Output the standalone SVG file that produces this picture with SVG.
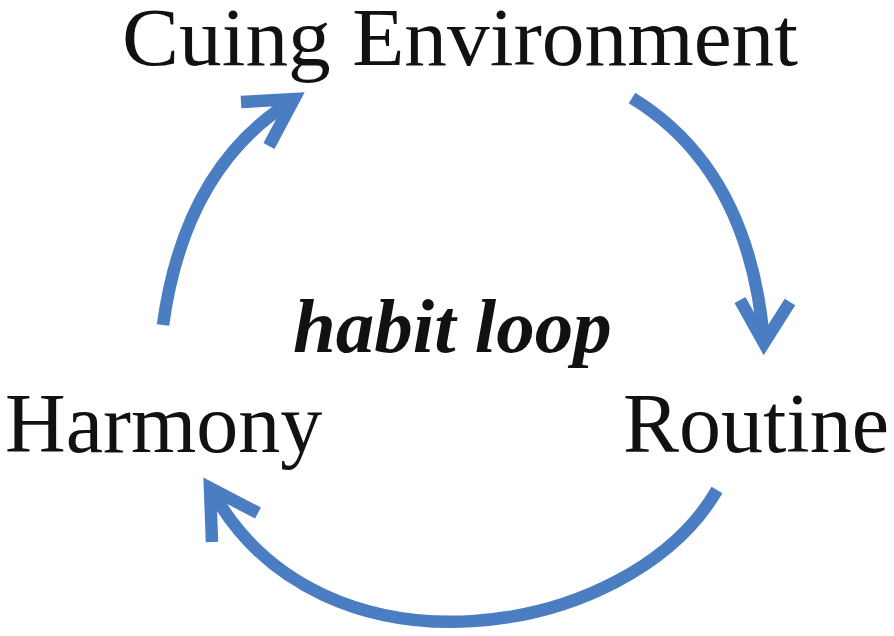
<svg xmlns="http://www.w3.org/2000/svg" width="894" height="636" viewBox="0 0 894 636">
<style>
.lbl{font-family:"Liberation Serif","Times New Roman",serif;fill:#111;}
.arc{fill:none;stroke:#4a7dc1;stroke-width:12.5;stroke-linecap:butt;stroke-linejoin:miter;}
</style>
<rect width="894" height="636" fill="#fff"/>
<g id="connectors">
<path class="arc" d="M163,325 Q185,165 295,99"/>
<polyline class="arc" points="241,102 294,99 269,146"/>
<path class="arc" d="M632,98 Q750,170 764,343"/>
<polyline class="arc" points="740,300 764,343 790,302"/>
<path class="arc" d="M717,490 C630,640 320,690 211,489"/>
<polyline class="arc" points="258,513 210,488 212,542"/>
</g>
<g id="node-cuing"><text class="lbl" x="122" y="65" font-size="83" textLength="676" lengthAdjust="spacingAndGlyphs">Cuing Environment</text></g>
<g id="node-harmony"><text class="lbl" x="5" y="452" font-size="84">Harmony</text></g>
<g id="node-routine"><text class="lbl" x="623" y="452" font-size="84">Routine</text></g>
<g id="center-label"><text class="lbl" x="293" y="352" font-size="77" font-weight="bold" font-style="italic">habit loop</text></g>
</svg>
